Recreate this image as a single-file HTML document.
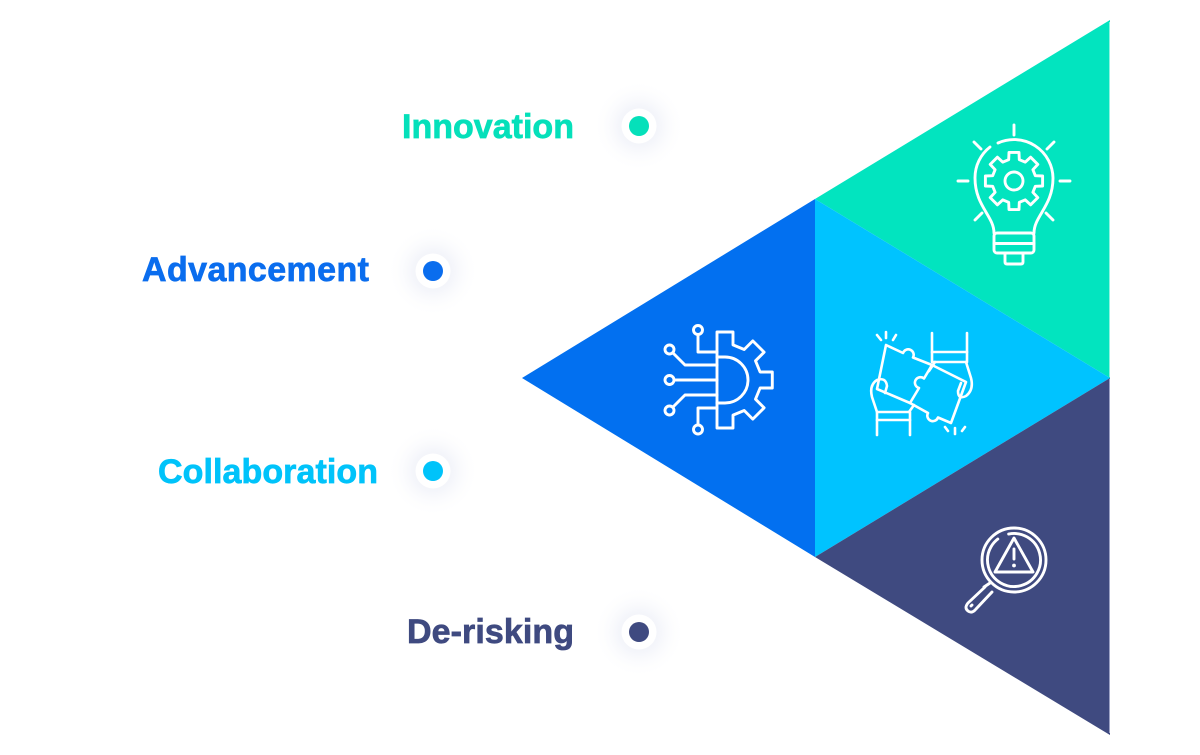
<!DOCTYPE html>
<html>
<head>
<meta charset="utf-8">
<style>
  html,body{margin:0;padding:0;background:#fff;}
  body{width:1200px;height:755px;overflow:hidden;}
  svg{display:block;}
  text{font-family:"Liberation Sans", Arial, sans-serif;font-weight:bold;font-size:34px;stroke-width:0.7px;}
</style>
</head>
<body>
<svg width="1200" height="755" viewBox="0 0 1200 755" xmlns="http://www.w3.org/2000/svg">
  <defs>
    <radialGradient id="halo" cx="50%" cy="50%" r="50%">
      <stop offset="0%" stop-color="#e6e8f5" stop-opacity="0.9"/>
      <stop offset="45%" stop-color="#eef0f8" stop-opacity="0.6"/>
      <stop offset="100%" stop-color="#ffffff" stop-opacity="0"/>
    </radialGradient>
  </defs>
  <rect width="1200" height="755" fill="#ffffff"/>

  <!-- Triangles -->
  <polygon points="1110,20 815,199 1110,378" fill="#02E4BF"/>
  <polygon points="522,378 815,199 815,557" fill="#0270F0"/>
  <polygon points="815,199 1110,378 815,557" fill="#00C3FF"/>
  <polygon points="815,557 1110,378 1110,735" fill="#3F4A80"/>
  <line x1="1109.5" y1="22" x2="1109.5" y2="377" stroke="#8ef2e0" stroke-width="1"/>
  <line x1="1109.5" y1="379" x2="1109.5" y2="733" stroke="#9da3c6" stroke-width="1"/>

  <!-- Labels & dots -->
  <circle cx="639" cy="126" r="46" fill="url(#halo)"/>
  <circle cx="639" cy="126" r="17.5" fill="#fff"/>
  <circle cx="639" cy="126" r="10" fill="#05E0BA"/>
  <text x="402" y="138" fill="#05E0BA" stroke="#05E0BA" textLength="172" lengthAdjust="spacing">Innovation</text>

  <circle cx="433" cy="271" r="46" fill="url(#halo)"/>
  <circle cx="433" cy="271" r="17.5" fill="#fff"/>
  <circle cx="433" cy="271" r="10" fill="#0A6DEE"/>
  <text x="142" y="281" fill="#0A6DEE" stroke="#0A6DEE" textLength="227" lengthAdjust="spacing">Advancement</text>

  <circle cx="433" cy="471" r="46" fill="url(#halo)"/>
  <circle cx="433" cy="471" r="17.5" fill="#fff"/>
  <circle cx="433" cy="471" r="10" fill="#00C3FA"/>
  <text x="158" y="483" fill="#00C3FA" stroke="#00C3FA" textLength="220" lengthAdjust="spacing">Collaboration</text>

  <circle cx="639" cy="632" r="46" fill="url(#halo)"/>
  <circle cx="639" cy="632" r="17.5" fill="#fff"/>
  <circle cx="639" cy="632" r="10" fill="#3F4A80"/>
  <text x="407" y="643" fill="#3F4A80" stroke="#3F4A80" textLength="167" lengthAdjust="spacing">De-risking</text>

  <!-- Lightbulb icon -->
  <g fill="none" stroke="#fff" stroke-width="2.9" stroke-linecap="round" stroke-linejoin="round">
    <line x1="1014" y1="125" x2="1014" y2="135"/>
    <line x1="958" y1="181" x2="968" y2="181"/>
    <line x1="1060" y1="181" x2="1070" y2="181"/>
    <line x1="974" y1="142" x2="981" y2="149"/>
    <line x1="1054" y1="142" x2="1047" y2="149"/>
    <line x1="975" y1="220" x2="982" y2="213"/>
    <line x1="1053" y1="220" x2="1046" y2="213"/>
    <path d="M994,233 C994,216 975,206 975,178 A39,39 0 0 1 990,147 M998,143 A39,39 0 0 1 1053,178 C1053,206 1034,216 1034,233"/>
    <rect x="994" y="233" width="40" height="20" rx="3"/>
    <line x1="994" y1="243.5" x2="1034" y2="243.5"/>
    <path d="M1005,253 V262 Q1005,264 1007,264 H1021 Q1023,264 1023,262 V253"/>
    <polygon points="1035.3,175.7 1042.6,176.0 1042.6,186.0 1035.3,186.3 1032.9,192.3 1037.8,197.6 1030.6,204.8 1025.3,199.9 1019.3,202.3 1019.0,209.6 1009.0,209.6 1008.7,202.3 1002.7,199.9 997.4,204.8 990.2,197.6 995.1,192.3 992.7,186.3 985.4,186.0 985.4,176.0 992.7,175.7 995.1,169.7 990.2,164.4 997.4,157.2 1002.7,162.1 1008.7,159.7 1009.0,152.4 1019.0,152.4 1019.3,159.7 1025.3,162.1 1030.6,157.2 1037.8,164.4 1032.9,169.7"/>
    <circle cx="1014" cy="181" r="9"/>
  </g>

  <!-- Circuit gear icon -->
  <g fill="none" stroke="#fff" stroke-width="2.9" stroke-linecap="round" stroke-linejoin="round">
    <path d="M717,332 H733 L733,344.9 L744.2,349.5 L752.8,340.9 L764.1,352.2 L755.5,360.8 L760.1,372 L772.3,372 L772.3,388 L760.1,388 L755.5,399.2 L764.1,407.8 L752.8,419.1 L744.2,410.5 L733,415.1 L733,428 H717 Z"/>
    <path d="M717,357 H725 A23,23 0 0 1 725,403 H717"/>
    <path d="M717,352 H698 V335"/>
    <circle cx="698" cy="330" r="4.5"/>
    <path d="M717,365 H685 L673,353"/>
    <circle cx="669.5" cy="349.5" r="4.5"/>
    <path d="M717,380 H674"/>
    <circle cx="669.5" cy="380" r="4.5"/>
    <path d="M717,395 H685 L673,407"/>
    <circle cx="669.5" cy="410.5" r="4.5"/>
    <path d="M717,408 H698 V425"/>
    <circle cx="698" cy="429.5" r="4.5"/>
  </g>

  <!-- Puzzle / hands icon -->
  <g fill="none" stroke="#fff" stroke-width="2.6" stroke-linecap="round" stroke-linejoin="round">
    <line x1="877" y1="335" x2="881" y2="340"/>
    <line x1="886" y1="332" x2="886" y2="338"/>
    <line x1="896" y1="335" x2="893" y2="340"/>
    <line x1="945" y1="427" x2="948" y2="431"/>
    <line x1="955" y1="428" x2="955" y2="434"/>
    <line x1="965" y1="427" x2="962" y2="431"/>
    <path d="M886,345 L903,353 A5.5,5.5 0 1 1 913,357.5 L932,365 L924,378.5 A5.5,5.5 0 1 0 919,388 L910,403 L877,389 Z"/>
    <path d="M932,365 L966,382 L951,423 L938,417.5 A5.5,5.5 0 1 1 928,413 L910,403"/>
    <line x1="932" y1="333" x2="932" y2="352"/>
    <line x1="967" y1="333" x2="967" y2="352"/>
    <rect x="932" y="352" width="35" height="10"/>
    <path d="M935,362 L929,371"/>
    <path d="M966,362 L971,378 Q974,390 966,396 Q958,400 958,391 L961,383"/>
    <line x1="877" y1="420" x2="877" y2="435"/>
    <line x1="910" y1="420" x2="910" y2="435"/>
    <rect x="877" y="412" width="33" height="8"/>
    <path d="M877,412 L872,397 Q869,385 877,380 Q886,377 887,386 L885,393"/>
    <path d="M909,412 L914,405"/>
  </g>

  <!-- Magnifier / warning icon -->
  <g fill="none" stroke="#fff" stroke-width="2.9" stroke-linecap="round" stroke-linejoin="round">
    <circle cx="1014" cy="560" r="32"/>
    <circle cx="1014" cy="560" r="26.5" stroke-dasharray="135 12" transform="rotate(-60 1014 560)"/>
    <path d="M1014,538 L1033,572 L995,572 Z"/>
    <line x1="1014" y1="549" x2="1014" y2="559"/>
    <path d="M990,583 L984,587"/>
    <path d="M985,587 L968,603 Q964,608 968,611 Q972,614 976,609 L992,592"/>
    <line x1="971" y1="606" x2="972" y2="605"/>
  </g>
  <circle cx="1014" cy="565.5" r="1.9" fill="#fff"/>
</svg>
</body>
</html>
